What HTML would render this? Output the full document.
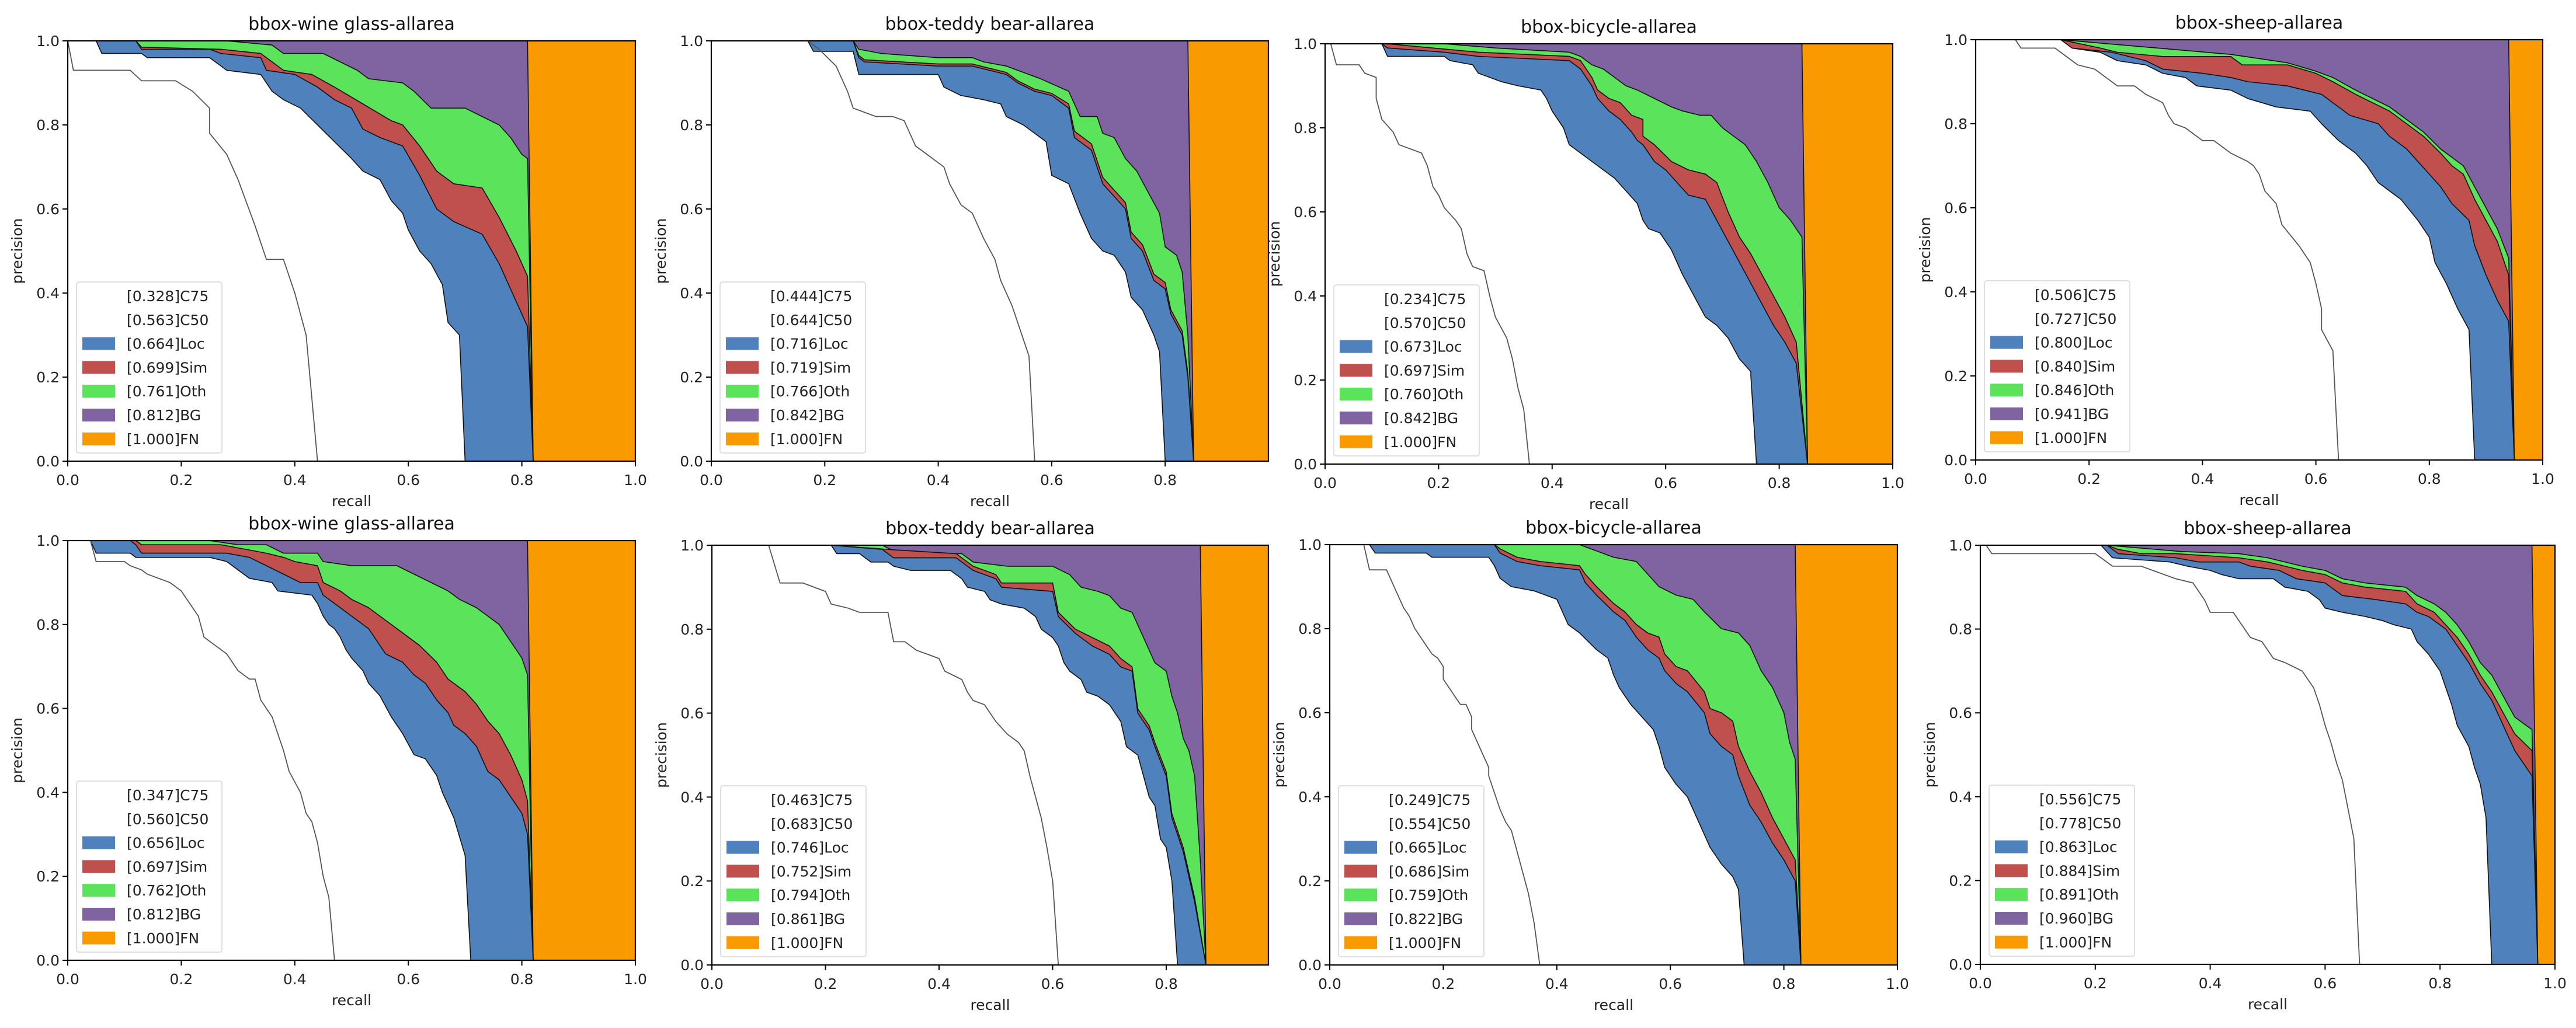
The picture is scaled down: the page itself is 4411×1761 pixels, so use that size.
<!DOCTYPE html>
<html><head><meta charset="utf-8">
<style>
html,body{margin:0;padding:0;background:#fff;}
svg{display:block;font-family:"DejaVu Sans","Liberation Sans",sans-serif;}
</style></head>
<body>
<svg id="fig" width="4411" height="1761" viewBox="0 0 4411 1761" xmlns="http://www.w3.org/2000/svg"></svg>
<script>
// ---- data: [recall, precision] points for each curve ----
const p1C75=[[0,1],[0.01,0.93],[0.11,0.93],[0.13,0.905],[0.19,0.905],[0.22,0.88],[0.25,0.84],[0.25,0.78],[0.28,0.73],[0.30,0.67],[0.33,0.56],[0.35,0.48],[0.38,0.48],[0.40,0.40],[0.42,0.30],[0.43,0.15],[0.44,0]];
const p1C50=[[0.05,1],[0.06,0.97],[0.13,0.97],[0.14,0.96],[0.25,0.96],[0.28,0.93],[0.34,0.92],[0.36,0.88],[0.38,0.86],[0.41,0.84],[0.44,0.80],[0.47,0.76],[0.50,0.72],[0.52,0.69],[0.55,0.67],[0.57,0.62],[0.59,0.59],[0.60,0.55],[0.62,0.50],[0.64,0.47],[0.66,0.42],[0.67,0.33],[0.69,0.30],[0.70,0]];
const p1Loc=[[0.12,1],[0.13,0.98],[0.25,0.98],[0.27,0.97],[0.34,0.96],[0.35,0.93],[0.40,0.92],[0.44,0.89],[0.47,0.86],[0.50,0.84],[0.52,0.79],[0.55,0.77],[0.59,0.75],[0.62,0.68],[0.65,0.60],[0.68,0.57],[0.73,0.54],[0.76,0.47],[0.79,0.38],[0.81,0.32],[0.82,0]];
const p1Sim=[[0.12,1],[0.13,0.985],[0.27,0.98],[0.34,0.97],[0.38,0.93],[0.43,0.92],[0.47,0.89],[0.52,0.85],[0.57,0.81],[0.59,0.80],[0.62,0.75],[0.65,0.69],[0.68,0.66],[0.73,0.65],[0.76,0.58],[0.79,0.50],[0.81,0.44],[0.82,0]];
const p1Oth=[[0.28,1],[0.36,0.99],[0.38,0.97],[0.45,0.97],[0.48,0.95],[0.51,0.93],[0.53,0.91],[0.59,0.90],[0.61,0.88],[0.64,0.84],[0.70,0.84],[0.73,0.82],[0.76,0.80],[0.78,0.77],[0.80,0.73],[0.81,0.72],[0.82,0]];
const p1BG=[[0.81,1],[0.82,0]];

const p2C75=[[0.17,1],[0.19,0.98],[0.22,0.94],[0.24,0.88],[0.25,0.84],[0.27,0.83],[0.29,0.82],[0.32,0.82],[0.34,0.81],[0.36,0.75],[0.38,0.73],[0.40,0.71],[0.41,0.70],[0.42,0.66],[0.44,0.61],[0.46,0.59],[0.48,0.53],[0.50,0.48],[0.51,0.43],[0.53,0.37],[0.55,0.29],[0.56,0.25],[0.57,0]];
const p2C50=[[0.17,1],[0.18,0.975],[0.25,0.975],[0.26,0.92],[0.40,0.92],[0.41,0.89],[0.44,0.87],[0.48,0.86],[0.51,0.85],[0.52,0.82],[0.55,0.80],[0.57,0.78],[0.59,0.76],[0.60,0.68],[0.63,0.66],[0.65,0.59],[0.67,0.53],[0.69,0.50],[0.71,0.49],[0.73,0.45],[0.74,0.39],[0.76,0.36],[0.78,0.30],[0.79,0.26],[0.80,0]];
const p2Loc=[[0.25,1],[0.26,0.96],[0.27,0.95],[0.40,0.94],[0.46,0.94],[0.49,0.93],[0.52,0.92],[0.54,0.90],[0.57,0.88],[0.60,0.87],[0.63,0.84],[0.64,0.77],[0.67,0.74],[0.69,0.66],[0.71,0.63],[0.73,0.60],[0.74,0.53],[0.76,0.50],[0.78,0.43],[0.80,0.41],[0.81,0.35],[0.83,0.30],[0.84,0.20],[0.85,0]];
const p2Sim=[[0.25,1],[0.26,0.965],[0.27,0.955],[0.40,0.945],[0.46,0.945],[0.49,0.935],[0.52,0.925],[0.54,0.905],[0.57,0.885],[0.60,0.875],[0.63,0.85],[0.64,0.785],[0.67,0.755],[0.69,0.675],[0.71,0.645],[0.73,0.615],[0.74,0.545],[0.76,0.515],[0.78,0.445],[0.80,0.425],[0.81,0.36],[0.83,0.31],[0.84,0.21],[0.85,0]];
const p2Oth=[[0.25,1],[0.26,0.98],[0.30,0.97],[0.40,0.96],[0.46,0.96],[0.48,0.95],[0.52,0.94],[0.56,0.92],[0.58,0.91],[0.63,0.88],[0.65,0.82],[0.68,0.82],[0.69,0.78],[0.71,0.77],[0.73,0.72],[0.75,0.69],[0.77,0.64],[0.79,0.59],[0.80,0.51],[0.82,0.49],[0.83,0.45],[0.84,0.30],[0.85,0]];
const p2BG=[[0.84,1],[0.85,0]];

const p3C75=[[0.01,1],[0.02,0.95],[0.06,0.95],[0.07,0.93],[0.09,0.92],[0.09,0.87],[0.10,0.82],[0.12,0.79],[0.13,0.76],[0.15,0.75],[0.17,0.74],[0.18,0.71],[0.19,0.66],[0.20,0.64],[0.21,0.61],[0.23,0.58],[0.24,0.56],[0.25,0.50],[0.26,0.47],[0.28,0.46],[0.29,0.40],[0.30,0.35],[0.32,0.30],[0.33,0.25],[0.34,0.18],[0.35,0.13],[0.36,0]];
const p3C50=[[0.10,1],[0.11,0.97],[0.21,0.97],[0.22,0.96],[0.26,0.95],[0.27,0.93],[0.31,0.91],[0.34,0.90],[0.38,0.89],[0.39,0.87],[0.40,0.84],[0.42,0.80],[0.43,0.76],[0.46,0.73],[0.49,0.70],[0.51,0.68],[0.53,0.65],[0.55,0.62],[0.56,0.58],[0.57,0.56],[0.59,0.55],[0.61,0.51],[0.63,0.45],[0.65,0.40],[0.67,0.35],[0.69,0.33],[0.71,0.30],[0.73,0.25],[0.75,0.22],[0.75,0.21],[0.76,0]];
const p3Loc=[[0.10,1],[0.11,0.99],[0.21,0.98],[0.27,0.97],[0.43,0.96],[0.45,0.94],[0.47,0.90],[0.48,0.87],[0.50,0.84],[0.52,0.82],[0.54,0.79],[0.55,0.77],[0.56,0.76],[0.58,0.72],[0.60,0.70],[0.62,0.67],[0.64,0.64],[0.67,0.63],[0.69,0.58],[0.71,0.53],[0.73,0.48],[0.75,0.43],[0.77,0.38],[0.79,0.33],[0.81,0.29],[0.83,0.24],[0.85,0]];
const p3Sim=[[0.11,1],[0.27,0.98],[0.43,0.97],[0.45,0.96],[0.47,0.92],[0.48,0.89],[0.50,0.87],[0.52,0.86],[0.54,0.83],[0.56,0.82],[0.56,0.78],[0.58,0.76],[0.61,0.72],[0.64,0.70],[0.67,0.69],[0.69,0.67],[0.71,0.60],[0.73,0.54],[0.75,0.50],[0.77,0.45],[0.79,0.40],[0.81,0.35],[0.83,0.29],[0.85,0]];
const p3Oth=[[0.21,1],[0.30,0.99],[0.43,0.98],[0.45,0.97],[0.47,0.95],[0.49,0.94],[0.51,0.92],[0.53,0.90],[0.55,0.89],[0.58,0.87],[0.61,0.85],[0.63,0.84],[0.66,0.83],[0.68,0.83],[0.70,0.80],[0.72,0.78],[0.74,0.76],[0.76,0.72],[0.78,0.67],[0.80,0.61],[0.82,0.58],[0.84,0.54],[0.85,0]];
const p3BG=[[0.84,1],[0.85,0]];

const p4C75=[[0.07,1],[0.08,0.98],[0.14,0.98],[0.15,0.97],[0.17,0.95],[0.18,0.94],[0.21,0.93],[0.23,0.91],[0.25,0.89],[0.28,0.89],[0.30,0.87],[0.33,0.85],[0.34,0.82],[0.35,0.80],[0.37,0.79],[0.38,0.78],[0.39,0.77],[0.40,0.76],[0.42,0.76],[0.45,0.73],[0.48,0.71],[0.49,0.70],[0.50,0.68],[0.51,0.64],[0.53,0.61],[0.54,0.56],[0.57,0.51],[0.59,0.47],[0.60,0.42],[0.61,0.36],[0.61,0.31],[0.63,0.26],[0.64,0]];
const p4C50=[[0.15,1],[0.17,0.98],[0.22,0.97],[0.25,0.95],[0.30,0.94],[0.33,0.92],[0.37,0.91],[0.39,0.89],[0.45,0.88],[0.48,0.86],[0.53,0.84],[0.59,0.83],[0.61,0.80],[0.64,0.76],[0.67,0.73],[0.69,0.70],[0.71,0.66],[0.73,0.64],[0.75,0.62],[0.78,0.57],[0.80,0.53],[0.81,0.47],[0.83,0.42],[0.85,0.36],[0.87,0.31],[0.88,0]];
const p4Loc=[[0.15,1],[0.17,0.98],[0.24,0.97],[0.30,0.95],[0.33,0.93],[0.40,0.92],[0.45,0.91],[0.48,0.90],[0.55,0.89],[0.61,0.87],[0.63,0.85],[0.66,0.82],[0.71,0.80],[0.73,0.77],[0.76,0.74],[0.78,0.71],[0.80,0.68],[0.82,0.65],[0.84,0.61],[0.87,0.57],[0.88,0.51],[0.90,0.44],[0.92,0.38],[0.94,0.33],[0.95,0]];
const p4Sim=[[0.15,1],[0.22,0.98],[0.25,0.97],[0.33,0.96],[0.45,0.96],[0.47,0.94],[0.55,0.94],[0.60,0.92],[0.63,0.90],[0.67,0.87],[0.70,0.85],[0.73,0.83],[0.76,0.80],[0.79,0.77],[0.82,0.73],[0.84,0.70],[0.86,0.68],[0.88,0.62],[0.90,0.57],[0.92,0.52],[0.94,0.44],[0.95,0]];
const p4Oth=[[0.15,1],[0.45,0.965],[0.55,0.945],[0.60,0.925],[0.63,0.91],[0.67,0.88],[0.70,0.86],[0.73,0.84],[0.76,0.81],[0.79,0.78],[0.82,0.74],[0.84,0.72],[0.86,0.70],[0.88,0.65],[0.90,0.60],[0.92,0.55],[0.94,0.48],[0.95,0]];
const p4BG=[[0.94,1],[0.95,0]];

const p5C75=[[0.04,1],[0.05,0.95],[0.10,0.95],[0.11,0.94],[0.13,0.93],[0.14,0.92],[0.16,0.91],[0.18,0.90],[0.20,0.88],[0.21,0.86],[0.22,0.84],[0.23,0.82],[0.24,0.77],[0.26,0.75],[0.28,0.73],[0.29,0.71],[0.30,0.69],[0.32,0.67],[0.33,0.67],[0.34,0.62],[0.36,0.58],[0.38,0.50],[0.39,0.45],[0.41,0.40],[0.42,0.35],[0.43,0.33],[0.44,0.28],[0.45,0.20],[0.46,0.15],[0.47,0]];
const p5C50=[[0.04,1],[0.05,0.97],[0.11,0.97],[0.12,0.96],[0.25,0.96],[0.28,0.95],[0.30,0.93],[0.32,0.91],[0.36,0.90],[0.37,0.88],[0.43,0.87],[0.44,0.85],[0.45,0.82],[0.46,0.80],[0.47,0.79],[0.48,0.77],[0.49,0.74],[0.50,0.72],[0.52,0.69],[0.53,0.66],[0.55,0.63],[0.57,0.58],[0.59,0.54],[0.61,0.49],[0.63,0.48],[0.65,0.44],[0.66,0.40],[0.68,0.34],[0.70,0.25],[0.71,0]];
const p5Loc=[[0.11,1],[0.12,0.99],[0.13,0.97],[0.28,0.97],[0.32,0.96],[0.35,0.94],[0.38,0.92],[0.41,0.90],[0.44,0.90],[0.45,0.87],[0.48,0.84],[0.51,0.81],[0.53,0.79],[0.56,0.73],[0.59,0.71],[0.61,0.68],[0.63,0.66],[0.65,0.62],[0.67,0.59],[0.68,0.56],[0.70,0.54],[0.72,0.51],[0.74,0.45],[0.76,0.43],[0.78,0.39],[0.80,0.35],[0.81,0.30],[0.82,0]];
const p5Sim=[[0.12,1],[0.13,0.99],[0.27,0.99],[0.31,0.98],[0.35,0.97],[0.38,0.96],[0.40,0.95],[0.44,0.94],[0.45,0.90],[0.48,0.88],[0.50,0.86],[0.53,0.84],[0.56,0.81],[0.59,0.78],[0.62,0.75],[0.65,0.71],[0.67,0.67],[0.70,0.64],[0.72,0.61],[0.74,0.57],[0.76,0.54],[0.78,0.49],[0.80,0.43],[0.81,0.38],[0.82,0]];
const p5Oth=[[0.25,1],[0.30,0.99],[0.35,0.99],[0.38,0.97],[0.44,0.97],[0.45,0.95],[0.50,0.94],[0.58,0.94],[0.61,0.92],[0.64,0.90],[0.67,0.88],[0.69,0.86],[0.72,0.84],[0.74,0.82],[0.76,0.80],[0.78,0.76],[0.80,0.72],[0.81,0.68],[0.82,0]];
const p5BG=[[0.81,1],[0.82,0]];

const p6C75=[[0.10,1],[0.12,0.91],[0.16,0.91],[0.18,0.90],[0.20,0.89],[0.21,0.86],[0.24,0.85],[0.26,0.84],[0.31,0.84],[0.32,0.77],[0.34,0.77],[0.36,0.75],[0.38,0.74],[0.40,0.73],[0.41,0.70],[0.44,0.68],[0.45,0.65],[0.46,0.63],[0.48,0.62],[0.50,0.58],[0.52,0.55],[0.54,0.53],[0.55,0.51],[0.56,0.45],[0.57,0.40],[0.58,0.35],[0.59,0.28],[0.60,0.20],[0.61,0]];
const p6C50=[[0.21,1],[0.22,0.98],[0.26,0.98],[0.28,0.96],[0.31,0.96],[0.32,0.95],[0.35,0.94],[0.42,0.94],[0.44,0.92],[0.45,0.90],[0.48,0.89],[0.49,0.87],[0.51,0.86],[0.55,0.85],[0.57,0.83],[0.58,0.80],[0.60,0.78],[0.61,0.76],[0.62,0.72],[0.63,0.70],[0.65,0.68],[0.66,0.65],[0.68,0.64],[0.70,0.62],[0.72,0.58],[0.73,0.52],[0.75,0.50],[0.76,0.45],[0.77,0.40],[0.78,0.38],[0.79,0.30],[0.80,0.28],[0.81,0.20],[0.82,0]];
const p6Loc=[[0.21,1],[0.30,0.99],[0.32,0.97],[0.43,0.97],[0.46,0.94],[0.48,0.93],[0.50,0.92],[0.51,0.90],[0.60,0.89],[0.61,0.83],[0.64,0.79],[0.67,0.76],[0.70,0.74],[0.72,0.71],[0.74,0.70],[0.75,0.60],[0.77,0.56],[0.78,0.52],[0.80,0.45],[0.81,0.35],[0.83,0.27],[0.85,0.15],[0.87,0]];
const p6Sim=[[0.21,1],[0.31,0.99],[0.43,0.98],[0.46,0.95],[0.48,0.94],[0.50,0.93],[0.51,0.91],[0.60,0.91],[0.61,0.84],[0.64,0.80],[0.67,0.78],[0.70,0.76],[0.72,0.73],[0.74,0.71],[0.75,0.61],[0.77,0.57],[0.78,0.53],[0.80,0.46],[0.81,0.36],[0.83,0.28],[0.85,0.16],[0.87,0]];
const p6Oth=[[0.30,1],[0.33,0.98],[0.44,0.98],[0.46,0.96],[0.52,0.95],[0.60,0.95],[0.63,0.93],[0.65,0.90],[0.68,0.89],[0.70,0.88],[0.72,0.85],[0.74,0.84],[0.76,0.78],[0.78,0.72],[0.80,0.70],[0.81,0.64],[0.82,0.60],[0.83,0.54],[0.84,0.51],[0.85,0.45],[0.86,0.25],[0.87,0]];
const p6BG=[[0.86,1],[0.87,0]];

const p7C75=[[0.06,1],[0.07,0.94],[0.10,0.94],[0.11,0.91],[0.12,0.88],[0.13,0.85],[0.14,0.83],[0.15,0.80],[0.16,0.78],[0.17,0.76],[0.18,0.74],[0.19,0.73],[0.20,0.71],[0.20,0.68],[0.21,0.66],[0.22,0.64],[0.23,0.62],[0.24,0.62],[0.25,0.59],[0.25,0.56],[0.26,0.53],[0.27,0.50],[0.28,0.47],[0.28,0.45],[0.29,0.41],[0.30,0.37],[0.31,0.34],[0.32,0.32],[0.33,0.27],[0.34,0.22],[0.35,0.17],[0.36,0.10],[0.37,0]];
const p7C50=[[0.07,1],[0.08,0.98],[0.17,0.98],[0.18,0.97],[0.28,0.97],[0.29,0.95],[0.30,0.92],[0.32,0.90],[0.36,0.89],[0.38,0.88],[0.40,0.87],[0.41,0.84],[0.42,0.81],[0.44,0.79],[0.47,0.75],[0.49,0.73],[0.50,0.69],[0.51,0.66],[0.53,0.62],[0.55,0.59],[0.57,0.56],[0.58,0.52],[0.59,0.47],[0.61,0.43],[0.63,0.40],[0.65,0.34],[0.67,0.28],[0.69,0.24],[0.71,0.21],[0.72,0.18],[0.73,0]];
const p7Loc=[[0.29,1],[0.30,0.98],[0.33,0.96],[0.37,0.95],[0.44,0.94],[0.45,0.91],[0.47,0.88],[0.50,0.84],[0.52,0.82],[0.54,0.78],[0.56,0.75],[0.58,0.73],[0.59,0.70],[0.61,0.67],[0.63,0.65],[0.66,0.60],[0.67,0.55],[0.69,0.52],[0.71,0.50],[0.72,0.45],[0.74,0.38],[0.76,0.34],[0.78,0.29],[0.80,0.25],[0.82,0.20],[0.83,0]];
const p7Sim=[[0.29,1],[0.30,0.99],[0.33,0.97],[0.37,0.96],[0.44,0.95],[0.45,0.93],[0.47,0.90],[0.50,0.86],[0.52,0.84],[0.54,0.81],[0.56,0.79],[0.58,0.78],[0.59,0.74],[0.61,0.71],[0.63,0.70],[0.66,0.65],[0.67,0.61],[0.69,0.60],[0.71,0.58],[0.72,0.52],[0.74,0.46],[0.76,0.41],[0.78,0.35],[0.80,0.30],[0.82,0.25],[0.83,0]];
const p7Oth=[[0.44,1],[0.48,0.98],[0.50,0.97],[0.54,0.96],[0.56,0.93],[0.58,0.90],[0.61,0.88],[0.64,0.87],[0.66,0.84],[0.69,0.80],[0.72,0.79],[0.74,0.76],[0.76,0.70],[0.78,0.66],[0.80,0.60],[0.81,0.53],[0.82,0.49],[0.83,0]];
const p7BG=[[0.82,1],[0.83,0]];

const p8C75=[[0.01,1],[0.02,0.98],[0.20,0.98],[0.23,0.95],[0.28,0.95],[0.30,0.94],[0.32,0.93],[0.34,0.92],[0.37,0.91],[0.38,0.89],[0.39,0.87],[0.40,0.84],[0.44,0.84],[0.45,0.82],[0.47,0.78],[0.49,0.77],[0.51,0.73],[0.53,0.72],[0.56,0.70],[0.58,0.66],[0.59,0.62],[0.60,0.57],[0.61,0.53],[0.62,0.48],[0.63,0.44],[0.64,0.37],[0.65,0.30],[0.66,0]];
const p8C50=[[0.21,1],[0.23,0.97],[0.33,0.96],[0.36,0.95],[0.40,0.94],[0.42,0.93],[0.45,0.92],[0.51,0.92],[0.53,0.90],[0.57,0.89],[0.59,0.87],[0.60,0.85],[0.63,0.84],[0.67,0.83],[0.70,0.82],[0.72,0.81],[0.75,0.80],[0.76,0.77],[0.78,0.74],[0.80,0.70],[0.82,0.62],[0.83,0.57],[0.85,0.52],[0.86,0.47],[0.87,0.43],[0.88,0.35],[0.89,0]];
const p8Loc=[[0.22,1],[0.24,0.98],[0.34,0.97],[0.38,0.96],[0.45,0.96],[0.47,0.95],[0.52,0.94],[0.55,0.92],[0.60,0.91],[0.63,0.88],[0.69,0.87],[0.74,0.86],[0.76,0.84],[0.78,0.83],[0.81,0.80],[0.83,0.76],[0.85,0.72],[0.87,0.67],[0.89,0.63],[0.91,0.57],[0.93,0.51],[0.96,0.45],[0.97,0]];
const p8Sim=[[0.22,1],[0.24,0.99],[0.28,0.98],[0.34,0.98],[0.45,0.97],[0.50,0.96],[0.53,0.95],[0.56,0.94],[0.60,0.93],[0.63,0.91],[0.67,0.90],[0.74,0.89],[0.76,0.86],[0.79,0.84],[0.81,0.81],[0.83,0.78],[0.85,0.74],[0.87,0.69],[0.89,0.65],[0.91,0.60],[0.93,0.55],[0.96,0.51],[0.97,0]];
const p8Oth=[[0.22,1],[0.35,0.985],[0.45,0.98],[0.50,0.97],[0.53,0.96],[0.56,0.95],[0.60,0.94],[0.63,0.92],[0.67,0.91],[0.74,0.90],[0.76,0.88],[0.79,0.86],[0.81,0.84],[0.83,0.81],[0.85,0.77],[0.87,0.72],[0.89,0.69],[0.91,0.64],[0.93,0.59],[0.96,0.56],[0.97,0]];
const p8BG=[[0.96,1],[0.97,0]];

const titles=["bbox-wine glass-allarea","bbox-teddy bear-allarea","bbox-bicycle-allarea","bbox-sheep-allarea","bbox-wine glass-allarea","bbox-teddy bear-allarea","bbox-bicycle-allarea","bbox-sheep-allarea"];
const legendNames=["C75","C50","Loc","Sim","Oth","BG","FN"];
const apP1=["0.328","0.563","0.664","0.699","0.761","0.812","1.000"];
const apP2=["0.444","0.644","0.716","0.719","0.766","0.842","1.000"];
const apP3=["0.234","0.570","0.673","0.697","0.760","0.842","1.000"];
const apP4=["0.506","0.727","0.800","0.840","0.846","0.941","1.000"];
const apP5=["0.347","0.560","0.656","0.697","0.762","0.812","1.000"];
const apP6=["0.463","0.683","0.746","0.752","0.794","0.861","1.000"];
const apP7=["0.249","0.554","0.665","0.686","0.759","0.822","1.000"];
const apP8=["0.556","0.778","0.863","0.884","0.891","0.960","1.000"];
const tickVals=["0.0","0.2","0.4","0.6","0.8","1.0"];

// ---- layout (pixels) ----
const layout=[
 {x0:116,x1:1088,y0:70,y1:790,xmax:1},
 {x0:1218,x1:2172,y0:70,y1:790,xmax:0.982},
 {x0:2269,x1:3241,y0:75,y1:795,xmax:1},
 {x0:3383,x1:4354,y0:68,y1:788,xmax:1},
 {x0:116,x1:1088,y0:926,y1:1645,xmax:1},
 {x0:1219,x1:2172,y0:934,y1:1653,xmax:0.98},
 {x0:2277,x1:3249,y0:933,y1:1653,xmax:1},
 {x0:3391,x1:4375,y0:934,y1:1652,xmax:1}
];
const series=[
 [p1C75,p1C50,p1Loc,p1Sim,p1Oth,p1BG,apP1],
 [p2C75,p2C50,p2Loc,p2Sim,p2Oth,p2BG,apP2],
 [p3C75,p3C50,p3Loc,p3Sim,p3Oth,p3BG,apP3],
 [p4C75,p4C50,p4Loc,p4Sim,p4Oth,p4BG,apP4],
 [p5C75,p5C50,p5Loc,p5Sim,p5Oth,p5BG,apP5],
 [p6C75,p6C50,p6Loc,p6Sim,p6Oth,p6BG,apP6],
 [p7C75,p7C50,p7Loc,p7Sim,p7Oth,p7BG,apP7],
 [p8C75,p8C50,p8Loc,p8Sim,p8Oth,p8BG,apP8]
];
const COL={Loc:"#4f81bd",Sim:"#c0504d",Oth:"#5ce35c",BG:"#8064a2",FN:"#f99a00"};
const NS="http://www.w3.org/2000/svg";
const svg=document.getElementById("fig");
function mk(tag,attrs,parent){const e=document.createElementNS(NS,tag);for(const k in attrs)e.setAttribute(k,attrs[k]);parent.appendChild(e);return e;}

series.forEach((s,i)=>{
  const L=layout[i];
  const unit=(L.x1-L.x0)/L.xmax;
  const X=r=>L.x0+r*unit;
  const Y=p=>L.y1-p*(L.y1-L.y0);
  const g=mk("g",{},svg);
  
  
  const cid="clip"+i;
  const cp=mk("clipPath",{id:cid},g);
  mk("rect",{x:L.x0,y:L.y0,width:L.x1-L.x0,height:L.y1-L.y0},cp);
  const pg=mk("g",{"clip-path":"url(#"+cid+")"},g);
  // FN background
  const fn=mk("rect",{x:L.x0,y:L.y0,width:L.x1-L.x0,height:L.y1-L.y0,fill:COL.FN},pg);
  
  
  function area(pts,fill,name){
    let d="M"+X(0)+","+Y(1);
    pts.forEach(q=>{d+=" L"+X(q[0]).toFixed(1)+","+Y(q[1]).toFixed(1);});
    d+=" L"+X(0)+","+Y(0)+" Z";
    const e=mk("path",{d:d,fill:fill,stroke:"#111","stroke-width":1.6,"stroke-linejoin":"round"},pg);
    
    
  }
  area(s[5],COL.BG,"bg-area");
  area(s[4],COL.Oth,"oth-area");
  area(s[3],COL.Sim,"sim-area");
  area(s[2],COL.Loc,"loc-area");
  area(s[1],"#ffffff","c50-area");
  // C75 line
  let d="M"+X(0)+","+Y(1);
  s[0].forEach(q=>{d+=" L"+X(q[0]).toFixed(1)+","+Y(q[1]).toFixed(1);});
  d+=" L"+X(L.xmax)+","+Y(0);
  const c75=mk("path",{d:d,fill:"none",stroke:"#555","stroke-width":1.8},pg);
  
  
  // frame
  const fr=mk("rect",{x:L.x0,y:L.y0,width:L.x1-L.x0,height:L.y1-L.y0,fill:"none",stroke:"#000","stroke-width":2.2},g);
  
  
  // ticks
  tickVals.forEach((t,k)=>{
    const v=k*0.2;
    const ty=Y(v);
    mk("line",{x1:L.x0-9,x2:L.x0,y1:ty,y2:ty,stroke:"#000","stroke-width":2},g);
    const yl=mk("text",{x:L.x0-14,y:ty+9,"text-anchor":"end","font-size":25,fill:"#222"},g);
    yl.textContent=t;
    
    
    if(v<=L.xmax+1e-6){
      const tx=X(v);
      mk("line",{x1:tx,x2:tx,y1:L.y1,y2:L.y1+9,stroke:"#000","stroke-width":2},g);
      const xl=mk("text",{x:tx,y:L.y1+41,"text-anchor":"middle","font-size":25,fill:"#222"},g);
      xl.textContent=t;
      
      
    }
  });
  const cx=(L.x0+L.x1)/2;
  const title=mk("text",{x:cx,y:L.y0-19,"text-anchor":"middle","font-size":30,fill:"#111"},g);
  title.textContent=titles[i];
  
  
  const xt=mk("text",{x:cx,y:L.y1+77,"text-anchor":"middle","font-size":25,fill:"#222"},g);
  xt.textContent="recall";
  
  
  const ym=(L.y0+L.y1)/2;
  const yt=mk("text",{x:L.x0-78,y:ym,"text-anchor":"middle","font-size":25,fill:"#222",transform:"rotate(-90 "+(L.x0-78)+" "+ym+")"},g);
  yt.textContent="precision";
  
  
  // legend
  const lx=L.x0+15, lh=293, ly=L.y1-14-lh;
  const lg=mk("g",{},g);
  
  
  mk("rect",{x:lx,y:ly,width:249,height:lh,rx:4,fill:"#ffffff","fill-opacity":0.85,stroke:"#d6d6d6","stroke-width":1.5},lg);
  legendNames.forEach((n,k)=>{
    const rowY=ly+24+k*40.8;
    if(COL[n]){
      const sw=mk("rect",{x:lx+10,y:rowY-11,width:56,height:22,fill:COL[n]},lg);
      
      
    }
    const tx=mk("text",{x:lx+86,y:rowY+9,"font-size":25,fill:"#222"},lg);
    tx.textContent="["+s[6][k]+"]"+n;
    
    
  });
});
</script>
</body></html>
